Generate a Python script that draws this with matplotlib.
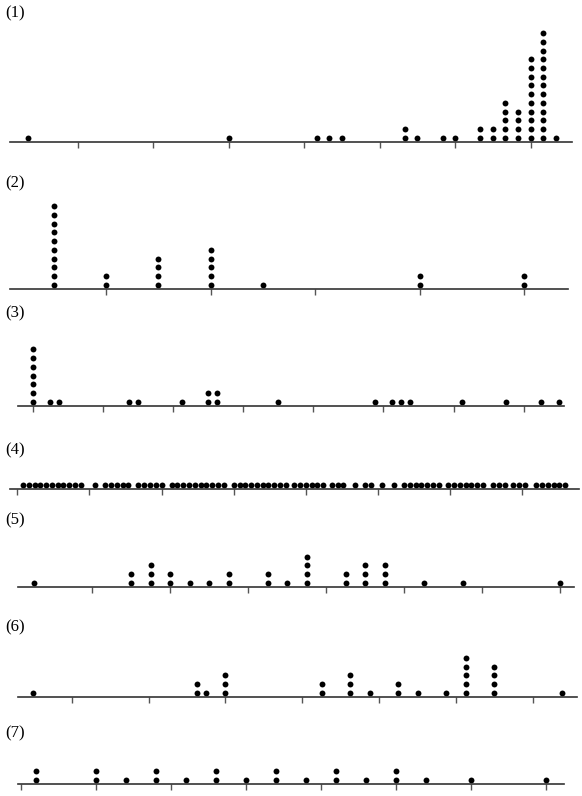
import matplotlib
matplotlib.use("Agg")
import matplotlib.pyplot as plt
import numpy as np

# Panel data: (positions, counts)
p1_x = [0, 16, 23, 24, 25, 30, 31, 33, 34, 36, 37, 38, 39, 40, 41, 42]
p1_n = [1, 1, 1, 1, 1, 2, 1, 1, 1, 2, 2, 5, 4, 10, 13, 1]
p1_ticks = [4, 10, 16, 22, 28, 34, 40]

p2_x = [1, 2, 3, 4, 5, 8, 10]
p2_n = [10, 2, 4, 5, 1, 2, 2]
p2_ticks = [2, 4, 6, 8, 10]

p3_x = [0, 2, 3, 11, 12, 17, 20, 21, 28, 39, 41, 42, 43, 49, 54, 58, 60]
p3_n = [7, 1, 1, 1, 1, 1, 2, 2, 1, 1, 1, 1, 1, 1, 1, 1, 1]
p3_ticks = [0, 8, 16, 24, 32, 40, 48, 56]

# panel 4: runs of adjacent single dots (start, count), stride 2
p4_start = [2, 27, 30.5, 42, 53.5, 75, 96, 109, 117, 120.5, 126.5, 130.5, 134, 149.3, 164.8, 171.9, 179.8]
p4_run = [11, 1, 5, 5, 10, 10, 6, 3, 1, 2, 1, 1, 7, 7, 3, 3, 6]
p4_ticks = [0, 25, 50, 75, 100, 125, 150, 175]

p5_x = [-3, 2, 3, 4, 5, 6, 7, 9, 10, 11, 13, 14, 15, 17, 19, 24]
p5_n = [1, 2, 3, 2, 1, 1, 2, 2, 1, 4, 2, 3, 3, 1, 1, 1]
p5_ticks = [0, 4, 8, 12, 16, 20, 24]

p6_x = [-4, 13, 14, 16, 26, 29, 31, 34, 36, 39, 41, 44, 51]
p6_n = [1, 2, 1, 3, 2, 3, 1, 2, 1, 1, 5, 4, 1]
p6_ticks = [0, 8, 16, 24, 32, 40, 48]

p7_x = [1, 5, 7, 9, 11, 13, 15, 17, 19, 21, 23, 25, 27, 30, 35]
p7_n = [2, 2, 1, 2, 1, 2, 1, 2, 1, 2, 1, 2, 1, 1, 1]
p7_ticks = [0, 5, 10, 15, 20, 25, 30, 35]

labels = ["(1)", "(2)", "(3)", "(4)", "(5)", "(6)", "(7)"]

W, H = 582, 796
fig = plt.figure(figsize=(W / 100, H / 100), dpi=100)

STRIDE = 8.7  # px per stacked dot
AX_H = 130    # px axes height

def stacked(xs, ns):
    px, py = [], []
    for x, n in zip(xs, ns):
        for k in range(n):
            px.append(x); py.append(0.5 + k)
    return px, py

p4_px = []
for s, r in zip(p4_start, p4_run):
    for k in range(r):
        p4_px.append(s + 2 * k)

panels = [
    (stacked(p1_x, p1_n), p1_ticks, (10, 572), (-1.4, 43.3), 142, 13),
    (stacked(p2_x, p2_n), p2_ticks, (10, 568), (0.16, 10.84), 289, 183),
    (stacked(p3_x, p3_n), p3_ticks, (18, 564), (-1.7, 60.6), 406, 313),
    ((p4_px, [0.5] * len(p4_px)), p4_ticks, (10, 579), (-2.5, 194.6), 489, 450),
    (stacked(p5_x, p5_n), p5_ticks, (18, 574), (-3.8, 24.7), 587, 520),
    (stacked(p6_x, p6_n), p6_ticks, (18, 577), (-5.6, 52.6), 697, 627),
    (stacked(p7_x, p7_n), p7_ticks, (18, 564), (-0.2, 36.2), 784, 733),
]

for i, ((px, py), ticks, (l, r), xlim, axy, ly) in enumerate(panels):
    ax = fig.add_axes([l / W, (H - axy) / H, (r - l) / W, AX_H / H])
    ax.scatter(px, py, s=18, c="black", linewidths=0, clip_on=False)
    ax.set_xlim(*xlim)
    ax.set_ylim(0, AX_H / STRIDE)
    for sp in ["top", "right", "left"]:
        ax.spines[sp].set_visible(False)
    ax.spines["bottom"].set_color("#333333")
    ax.spines["bottom"].set_linewidth(1.2)
    ax.set_yticks([])
    ax.set_xticks(ticks)
    ax.set_xticklabels([])
    ax.tick_params(axis="x", direction="out", length=4, width=1, color="#555555")
    ax.patch.set_visible(False)
    fig.text(5 / W, 1 - ly / H, labels[i], ha="left", va="center",
             fontsize=12, family="Liberation Serif")

fig.savefig("out.png", dpi=100)
